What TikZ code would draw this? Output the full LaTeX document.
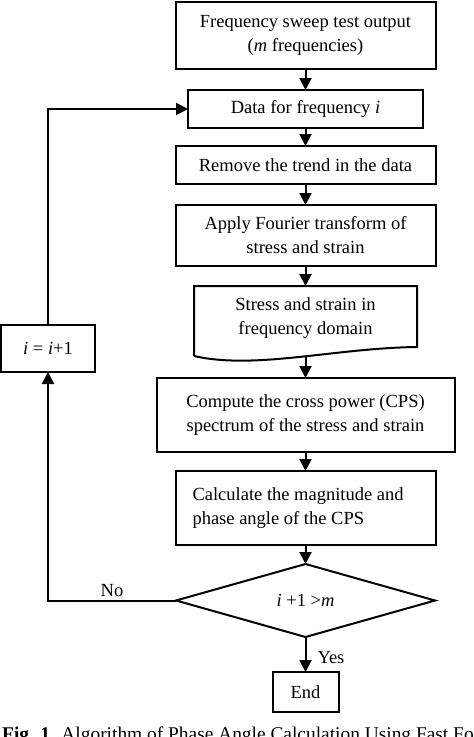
\documentclass[tikz,border=0pt]{standalone}
\usepackage{fontspec}
\setmainfont{Liberation Serif}
\usetikzlibrary{shapes.geometric, arrows.meta, positioning}

\begin{document}
\begin{tikzpicture}[x=1pt, y=1pt, node distance=20pt, auto,
        every node/.style={font=\fontsize{18.5}{24}\selectfont},
        block/.style={draw, rectangle, line width=2pt, outer sep=0pt, minimum width=260pt, align=center, inner sep=2pt},
        decision/.style={draw, diamond, line width=2pt, outer sep=0pt, minimum width=259pt, minimum height=73pt, inner sep=0pt},
        tag/.style={inner sep=3pt},
        line/.style={draw, line width=2pt, -{Triangle[length=12pt, width=12pt]}}]

        \useasboundingbox (0,0) rectangle (474,-737);

        % nodes
        \node [block, minimum height=67pt] (sweep) at (305.5,-35.5) {Frequency sweep test output\\(\textit{m} frequencies)};
        \node [block, minimum width=235pt, minimum height=38pt, below=21pt of sweep] (data) {Data for frequency \textit{i}};
        \node [block, minimum height=38pt, below=18pt of data] (trend) {Remove the trend in the data};
        \node [block, minimum height=61pt, below=21pt of trend] (fourier) {Apply Fourier transform of\\stress and strain};
        \node [minimum width=223pt, minimum height=64pt, inner sep=2pt, outer sep=0pt, align=center, below=20pt of fourier] (spectra) {Stress and strain in\\frequency domain};
        \node [block, minimum width=298pt, minimum height=74pt, below=28pt of spectra] (cps) {Compute the cross power (CPS)\\spectrum of the stress and strain};
        \node [block, minimum height=74pt, text width=226pt, inner xsep=17pt, align=flush left, below=19pt of cps] (magn) {Calculate the magnitude and\\phase angle of the CPS};
        \node [decision, below=19pt of magn] (check) {\textit{i} +1 >\textit{m}};
        \node [block, minimum width=66pt, minimum height=40pt, below=35pt of check] (finish) {End};
        \node [block, minimum width=94pt, minimum height=47pt] (incr) at (48,-348.5) {\textit{i} = \textit{i}+1};
        \node [anchor=base west, inner sep=0pt, font=\fontsize{19.4}{24}\selectfont] (caption) at (2,-740) {\textbf{Fig. 1.} Algorithm of Phase Angle Calculation Using Fast Fo};

        % document shape
        \draw [line width=2pt] ([yshift=-6pt]spectra.south west) -- (spectra.north west) -- (spectra.north east) -- ([yshift=3pt]spectra.south east)
            .. controls ([xshift=-82pt, yshift=2pt]spectra.south east) and ([xshift=61pt, yshift=-20pt]spectra.south west) .. ([yshift=-6pt]spectra.south west);
        \coordinate (wave) at ([yshift=-7pt]spectra.south);

        % connectors
        \path [line] (sweep) -- (data);
        \path [line] (data) -- (trend);
        \path [line] (trend) -- (fourier);
        \path [line] (fourier) -- (spectra);
        \path [line] (wave) -- (cps);
        \path [line] (cps) -- (magn);
        \path [line] (magn) -- (check);
        \path [line] (check) -- node [tag, right=8pt, pos=0.6] {Yes} (finish);
        \path [line] (check.west) -| node [tag, above, pos=0.25] {No} (incr.south);
        \path [line] (incr.north) |- (data.west);
\end{tikzpicture}
\end{document}
